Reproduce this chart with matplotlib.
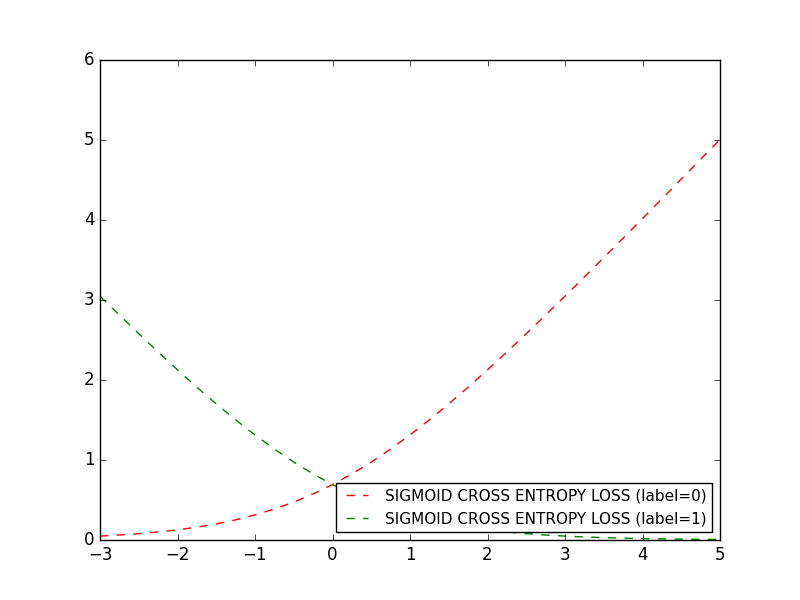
import matplotlib
matplotlib.use("Agg")
import matplotlib.pyplot as plt

plt.style.use("classic")

# x 위치와 곡선 값
x_vals = [-3.0, -2.75, -2.5, -2.25, -2.0, -1.75, -1.5, -1.25, -1.0, -0.75, -0.5, -0.25,
          0.0, 0.25, 0.5, 0.75, 1.0, 1.25, 1.5, 1.75, 2.0, 2.25, 2.5, 2.75,
          3.0, 3.25, 3.5, 3.75, 4.0, 4.25, 4.5, 4.75, 5.0]

loss_label0 = [0.0486, 0.0620, 0.0789, 0.1002, 0.1269, 0.1602, 0.2014, 0.2519, 0.3133,
               0.3869, 0.4741, 0.5760, 0.6931, 0.8260, 0.9741, 1.1369, 1.3133, 1.5019,
               1.7014, 1.9102, 2.1269, 2.3502, 2.5789, 2.8120, 3.0486, 3.2881, 3.5298,
               3.7732, 4.0181, 4.2642, 4.5110, 4.7586, 5.0067]

loss_label1 = [3.0486, 2.8120, 2.5789, 2.3502, 2.1269, 1.9102, 1.7014, 1.5019, 1.3133,
               1.1369, 0.9741, 0.8260, 0.6931, 0.5760, 0.4741, 0.3869, 0.3133, 0.2519,
               0.2014, 0.1602, 0.1269, 0.1002, 0.0789, 0.0620, 0.0486, 0.0381, 0.0298,
               0.0232, 0.0181, 0.0142, 0.0110, 0.0086, 0.0067]

fig, ax = plt.subplots(figsize=(8, 6), dpi=100)
ax.plot(x_vals, loss_label0, "r--", label="SIGMOID CROSS ENTROPY LOSS (label=0)")
ax.plot(x_vals, loss_label1, "g--", label="SIGMOID CROSS ENTROPY LOSS (label=1)")
ax.set_xlim(-3, 5)
ax.set_ylim(0, 6)
ax.legend(loc="lower right", fontsize=11)

fig.savefig("out.png", dpi=100)
